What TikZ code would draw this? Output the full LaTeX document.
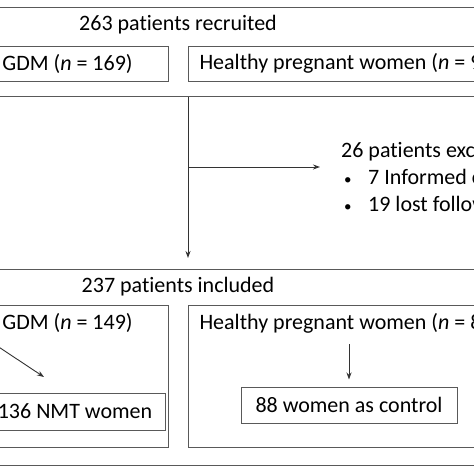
\documentclass[tikz,border=0pt]{standalone}
\usepackage{fontspec}
\setmainfont[Ligatures=NoCommon]{Carlito}
\usepackage{tikz}
\usetikzlibrary{arrows.meta}

\begin{document}
\begin{tikzpicture}[x=1pt,y=-1pt,>={Stealth[length=7pt,width=5pt]},
  font=\fontsize{22}{27}\selectfont,
  box/.style={draw=black!65,line width=1pt,rectangle,inner sep=0pt},
  arr/.style={->,draw=black!80,line width=0.9pt}]
\useasboundingbox (0,0) rectangle (474,474);
\clip (0,0) rectangle (474,474);
\fill[white] (0,0) rectangle (474,474);
% recruited
\node[box,minimum width=620,minimum height=89] (recruit) at (180,51.5) {};
\node (recruitT) at (178,25) {263 patients recruited};
\node[box,minimum width=201,minimum height=35] (gdm1) at (67.5,63.5) {GDM (\textit{n} = 169)};
\node[box,minimum width=342,minimum height=35,anchor=west] (hpw1) at (188,63.5) {};
\node[anchor=west] (hpw1t) at (196,63.5) {Healthy pregnant women (\textit{n} = 94)};
% excluded
\coordinate (branch) at (188,167);
\node[inner sep=0pt,align=left,anchor=north west] (excl) at (341,142)
  {26 patients excluded\\
   \makebox[27pt][l]{\hspace{3pt}{\fontsize{15}{15}\selectfont\textbullet}}7 Informed consent withdrawn\\
   \makebox[27pt][l]{\hspace{3pt}{\fontsize{15}{15}\selectfont\textbullet}}19 lost follow-up};
% included
\node[box,minimum width=620,minimum height=196] (incl) at (180,367.5) {};
\node (inclT) at (178,287) {237 patients included};
\node[box,minimum width=201,minimum height=142] (gdm2) at (67.5,376) {};
\node (gdm2t) at (67.5,323) {GDM (\textit{n} = 149)};
\node[box,minimum width=342,minimum height=142,anchor=north west] (hpw2) at (188,305) {};
\node[anchor=west] (hpw2t) at (196,323) {Healthy pregnant women (\textit{n} = 88)};
\node[box,minimum width=180,minimum height=37] (nmt) at (75,411.5) {136 NMT women};
\node[box,minimum width=216,minimum height=36] (ctrl) at (349,405) {88 women as control};
\coordinate (split) at (-30,328);
\coordinate (nmtin) at (44,377);
% arrows
\draw[arr,shorten >=11pt] (hpw1.west |- recruit.south) -- (hpw1.west |- incl.north);
\draw[arr,shorten >=21pt] (branch) -- (branch -| excl.west);
\draw[arr] (split) -- (nmtin);
\draw[arr,shorten <=8pt,shorten >=7pt] (hpw2t.south -| ctrl.north) -- (ctrl.north);
\end{tikzpicture}
\end{document}
